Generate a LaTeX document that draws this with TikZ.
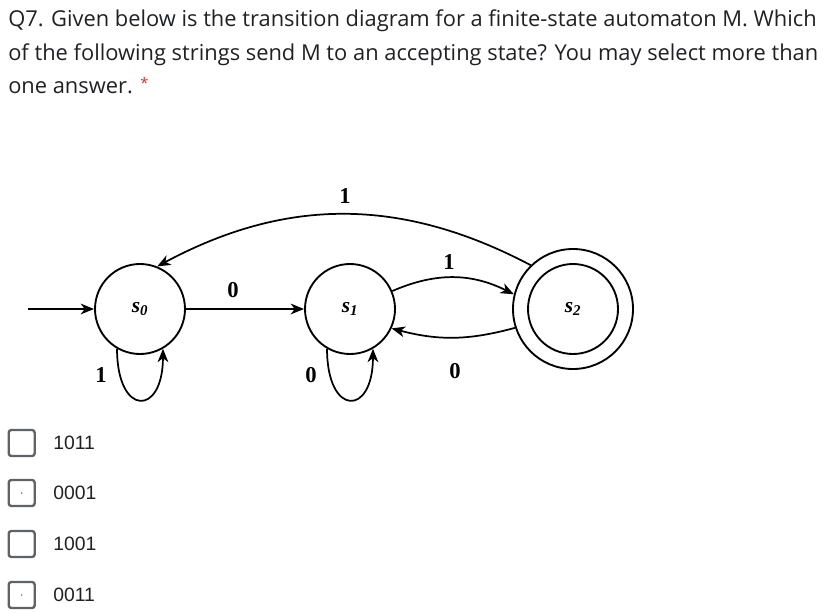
\documentclass[tikz,border=0pt]{standalone}
\usepackage{xcolor}
\usepackage{amsmath}
\usepackage{fontspec}
\newfontfamily\headfont{Open Sans}
\newfontfamily\optfont{Liberation Sans}
\newfontfamily\dfafont{Liberation Serif}
\usepackage{tikz}
\usetikzlibrary{math,arrows.meta}
\definecolor{boxgray}{HTML}{5F6368}
\definecolor{starred}{HTML}{D93025}
\definecolor{qtext}{HTML}{202124}

\begin{document}
\begin{tikzpicture}[x=0.75pt,y=0.75pt,
	state/.style={draw,circle,line width=1.4pt,minimum size=67.5pt,inner sep=0pt,
		font=\dfafont\fontsize{16}{16}\selectfont\bfseries\itshape},
	accept/.style={state,minimum size=90pt},
	edge/.style={line width=1.3pt,-{Stealth[length=10pt,width=8pt,inset=3pt]}},
	lab/.style={font=\dfafont\fontsize{17}{17}\selectfont\bfseries},
	cbox/.style={draw=boxgray,line width=1.8pt,rounded corners=2pt,minimum size=19.5pt,inner sep=0pt},
	opt/.style={font=\optfont\fontsize{14.5}{16}\selectfont,text=qtext,anchor=west,inner sep=0pt},
	qline/.style={font=\headfont\fontsize{16.4}{18}\selectfont,text=qtext,anchor=base west,inner sep=0pt}]
\useasboundingbox (0,0) rectangle (835,-613);
\tikzmath{
	\ya = -309;\xa = 140;\xb = 350;\xc = 573;
	\dep = 68;
	%
	{\node[qline] (q1) at (8,-27) {Q7. Given below is the transition diagram for a finite-state automaton M. Which};};
	{\node[qline] (q2) at (8,-61) {of the following strings send M to an accepting state? You may select more than};};
	{\node[qline] (q3) at (8,-94) {one answer. \textcolor{starred}{\raisebox{0.45ex}{\fontsize{11}{11}\selectfont *}}};};
	%
	{\coordinate (start) at (28,\ya);};
	{\node[state] (s0) at (\xa,\ya) {s\textsubscript{0}};};
	{\node[state] (s1) at (\xb,\ya) {s\textsubscript{1}};};
	{\node[accept] (s2) at (\xc,\ya) {};};
	{\node[state] (s2in) at (s2) {s\textsubscript{2}};};
	%
	{\draw[edge] (start) -- (s0);};
	{\draw[edge] (s0) -- (s1);};
	{\draw[edge] (s1.23) to[bend left=25] (s2.166);};
	{\draw[edge] (s2.198) to[bend left=15] (s1.335);};
	{\draw[edge] (s2.134) to[bend right=28] (s0.68);};
	{\draw[edge] (s0.240) .. controls +(0,-\dep) and +(0,-\dep) .. (s0.300);};
	{\draw[edge] (s1.240) .. controls +(0,-\dep) and +(0,-\dep) .. (s1.300);};
	%
	{\node[lab] (lab01) at (233,-290) {0};};
	{\node[lab] (lab20) at (345,-196) {1};};
	{\node[lab] (lab12) at (449,-262) {1};};
	{\node[lab] (lab21) at (455,-371) {0};};
	{\node[lab] (lab00) at (101,-375) {1};};
	{\node[lab] (lab11) at (311,-375) {0};};
	%
	{\node[cbox] (c1) at (21.7,-443) {};};
	{\node[cbox] (c2) at (21.7,-493) {};};
	{\node[cbox] (c3) at (21.7,-544) {};};
	{\node[cbox] (c4) at (21.7,-595) {};};
	{\fill[boxgray] (c2) circle (0.6pt);};
	{\fill[boxgray] (c4) circle (0.6pt);};
	{\node[opt] (o1) at (53,-443) {1011};};
	{\node[opt] (o2) at (53,-493) {0001};};
	{\node[opt] (o3) at (53,-544) {1001};};
	{\node[opt] (o4) at (53,-595) {0011};};
};
\end{tikzpicture}
\end{document}
